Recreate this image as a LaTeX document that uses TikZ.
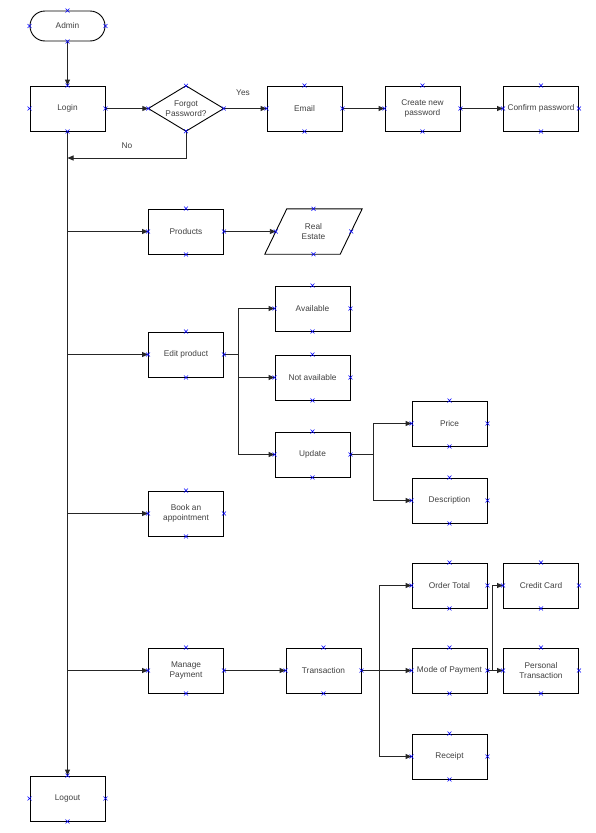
\documentclass[tikz,border=0pt]{standalone}
\usepackage{fontspec}
\setmainfont{Liberation Sans}
\usetikzlibrary{arrows.meta}
\tikzset{
  box/.style={draw=black, line width=0.9pt, minimum width=75pt, minimum height=45pt, inner sep=1pt, align=center, text=black!75, font=\fontsize{8.3}{10.5}\selectfont},
  ghost/.style={draw=none, minimum width=75pt, minimum height=45pt, inner sep=1pt, align=center, text=black!75, font=\fontsize{8.3}{10.5}\selectfont},
  conn/.style={line width=0.9pt, draw=black!85},
  arr/.style={conn, -{Triangle[length=6pt,width=5pt]}},
  lbl/.style={text=black!75, font=\fontsize{8.3}{10}\selectfont, inner sep=0pt},
  xmk/.style={draw=blue, line width=0.55pt}
}
\newcommand\cpx[1]{\draw[xmk] ([shift={(-2,-2)}]#1) -- ([shift={(2,2)}]#1) ([shift={(-2,2)}]#1) -- ([shift={(2,-2)}]#1);}
\newcommand\cpmarks[1]{\cpx{#1.north}\cpx{#1.south}\cpx{#1.east}\cpx{#1.west}}
\begin{document}
\begin{tikzpicture}[x=1pt,y=-1pt]
\useasboundingbox (0,0) rectangle (595,833);
\fill[white] (0,0) rectangle (595,833);
% nodes
\node[box, minimum height=30pt, rounded corners=15pt] (admin) at (67.5,26) {Admin};
\node[box] (login) at (67.5,108.5) {Login};
\node[ghost] (fp) at (186,108.5) {Forgot\\Password?};
\draw[conn, draw=black] (fp.west) -- (fp.north) -- (fp.east) -- (fp.south) -- cycle;
\node[box] (email) at (304.5,108.5) {Email};
\node[box] (cnp) at (422.5,108.5) {Create new\\password};
\node[box] (cp) at (541,108.5) {Confirm password};
\node[box] (prod) at (186,231.5) {Products};
\node[ghost, minimum width=97pt] (re) at (313.5,231.5) {Real\\Estate};
\draw[conn, draw=black] (re.south west) -- ([xshift=22]re.north west) -- (re.north east) -- ([xshift=-22]re.south east) -- cycle;
\coordinate (reW) at ([xshift=11]re.west);
\coordinate (reE) at ([xshift=-11]re.east);
\node[box] (edit) at (186,354.5) {Edit product};
\node[box] (avail) at (312.5,308.5) {Available};
\node[box] (navail) at (312.5,377.5) {Not available};
\node[box] (upd) at (312.5,454.5) {Update};
\node[box] (price) at (449.5,423.5) {Price};
\node[box] (desc) at (449.5,500.5) {Description};
\node[box] (book) at (186,513.5) {Book an\\appointment};
\node[box] (mp) at (186,670.5) {Manage\\Payment};
\node[box] (trans) at (323.5,670.5) {Transaction};
\node[box] (order) at (449.5,585.5) {Order Total};
\node[box] (mode) at (449.5,670.5) {Mode of Payment};
\node[box] (rcpt) at (449.5,756.5) {Receipt};
\node[box] (cc) at (541,585.5) {Credit Card};
\node[box] (pt) at (541,670.5) {Personal\\Transaction};
\node[box] (logout) at (67.5,798.5) {Logout};
% connectors
\draw[arr] (admin.south) -- (login.north);
\draw[arr] (login.east) -- (fp.west);
\draw[arr] (fp.east) -- (email.west);
\node[lbl] (yes) at (243,93) {Yes};
\coordinate (nojoin) at (67.5,158);
\draw[arr] (fp.south) |- (nojoin);
\node[lbl] (no) at (127,146) {No};
\draw[arr] (email.east) -- (cnp.west);
\draw[arr] (cnp.east) -- (cp.west);
\draw[arr] (login.south) -- (logout.north);
\draw[arr] (login.south |- prod.west) -- (prod.west);
\draw[arr] (prod.east) -- (reW);
\draw[arr] (login.south |- edit.west) -- (edit.west);
\draw[arr] (edit.east) -- ++(14,0) |- (avail.west);
\draw[arr] (edit.east) -- ++(14,0) |- (navail.west);
\draw[arr] (edit.east) -- ++(14,0) |- (upd.west);
\draw[arr] (upd.east) -- ++(23,0) |- (price.west);
\draw[arr] (upd.east) -- ++(23,0) |- (desc.west);
\draw[arr] (login.south |- book.west) -- (book.west);
\draw[arr] (login.south |- mp.west) -- (mp.west);
\draw[arr] (mp.east) -- (trans.west);
\draw[arr] (trans.east) -- ++(18,0) |- (order.west);
\draw[arr] (trans.east) -- (mode.west);
\draw[arr] (trans.east) -- ++(18,0) |- (rcpt.west);
\draw[arr] (mode.east) -- (pt.west);
\draw[arr] (mode.east) -- ++(5,0) |- (cc.west);
% connection point marks
\foreach \n in {admin,login,fp,email,cnp,cp,prod,edit,avail,navail,upd,price,desc,book,mp,trans,order,mode,rcpt,cc,pt,logout}{\cpmarks{\n}}
\cpx{re.north}\cpx{re.south}\cpx{reW}\cpx{reE}
\end{tikzpicture}
\end{document}
